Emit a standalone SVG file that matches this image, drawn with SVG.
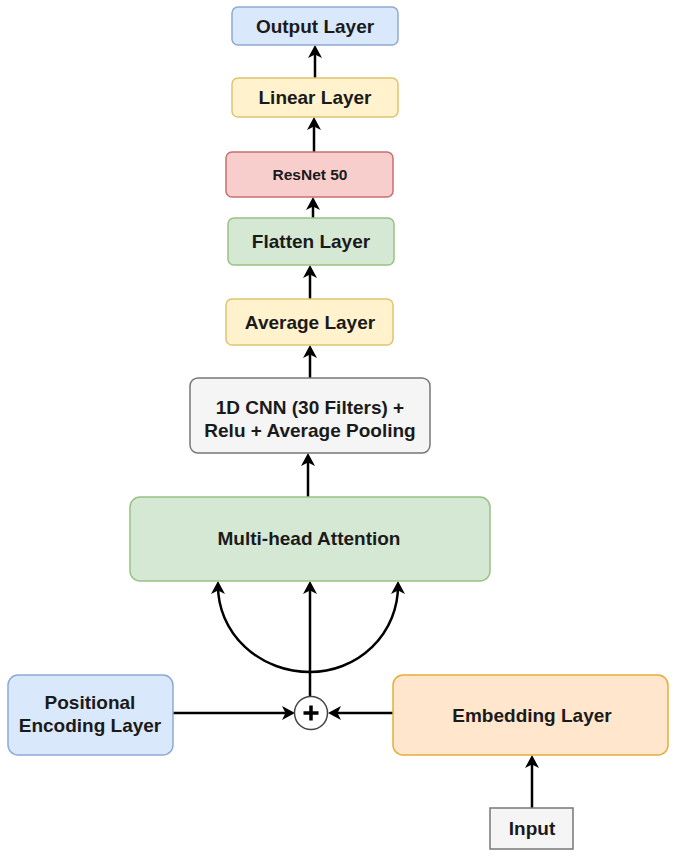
<svg xmlns="http://www.w3.org/2000/svg" width="685" height="864" viewBox="0 0 685 864">
<style>
.box{stroke-width:1.5}
.blue{fill:#dae8fc;stroke:#8ea9d4}
.yellow{fill:#fff2cc;stroke:#e0c46e}
.red{fill:#f8cecc;stroke:#c97070}
.green{fill:#d5e8d4;stroke:#98c283}
.gray{fill:#f5f5f5;stroke:#777777}
.orange{fill:#ffe6cc;stroke:#e6ad3c}
.t{font-family:"Liberation Sans",Arial,sans-serif;font-weight:bold;font-size:19px;fill:#1a1a1a;text-anchor:middle}
.s{font-size:15.5px}
.c{fill:none;stroke:#000;stroke-width:2.5;marker-end:url(#ah)}
</style>
<defs>
<marker id="ah" markerUnits="userSpaceOnUse" markerWidth="14" markerHeight="16" refX="8" refY="7.5" orient="auto">
<path d="M0,0.5 L13,7.5 L0,14.5 L3.5,7.5 z" fill="#000"/>
</marker>
</defs>
<g id="connectors">
<line class="c" x1="315" y1="78" x2="315" y2="50"/>
<line class="c" x1="314" y1="152" x2="314" y2="122"/>
<line class="c" x1="313" y1="218" x2="313" y2="202"/>
<line class="c" x1="310" y1="299" x2="310" y2="270"/>
<line class="c" x1="310" y1="378" x2="310" y2="350"/>
<line class="c" x1="308" y1="497" x2="308" y2="458"/>
<line class="c" x1="310" y1="697" x2="310" y2="586"/>
<path class="c" d="M310,672 A92,86 0 0 1 218,586"/>
<path class="c" d="M310,672 A88,86 0 0 0 398,586"/>
<line class="c" x1="173" y1="713" x2="290" y2="713"/>
<line class="c" x1="393" y1="713" x2="333" y2="713"/>
<line class="c" x1="532" y1="808" x2="532" y2="760"/>
</g>
<g id="output"><rect class="box blue" x="232" y="7" width="166" height="38" rx="6"/><text class="t" x="315" y="32.5">Output Layer</text></g>
<g id="linear"><rect class="box yellow" x="232" y="78" width="166" height="39" rx="6"/><text class="t" x="315" y="104">Linear Layer</text></g>
<g id="resnet"><rect class="box red" x="226" y="152" width="167" height="45" rx="6"/><text class="t s" x="310" y="180">ResNet 50</text></g>
<g id="flatten"><rect class="box green" x="228" y="218" width="166" height="47" rx="6"/><text class="t" x="311" y="248">Flatten Layer</text></g>
<g id="average"><rect class="box yellow" x="226" y="299" width="167" height="46" rx="6"/><text class="t" x="310" y="328.5">Average Layer</text></g>
<g id="cnn"><rect class="box gray" x="190" y="378" width="240" height="75" rx="8"/><text class="t" x="310" y="414">1D CNN (30 Filters) +</text><text class="t" x="310" y="437">Relu + Average Pooling</text></g>
<g id="mha"><rect class="box green" x="130" y="497" width="360" height="84" rx="10"/><text class="t" x="309" y="545">Multi-head Attention</text></g>
<g id="positional"><rect class="box blue" x="8" y="675" width="165" height="80" rx="10"/><text class="t" x="90" y="709">Positional</text><text class="t" x="90" y="732">Encoding Layer</text></g>
<g id="embedding"><rect class="box orange" x="393" y="675" width="275" height="80" rx="10"/><text class="t" x="532" y="722">Embedding Layer</text></g>
<g id="input"><rect class="box gray" x="490" y="808" width="83" height="41"/><text class="t" x="532" y="835">Input</text></g>
<g id="sum"><circle cx="311" cy="713" r="16.5" fill="#fff" stroke="#444" stroke-width="1.5"/><path d="M311,705.5 V720.5 M303.5,713 H318.5" stroke="#000" stroke-width="3.5"/></g>
</svg>
